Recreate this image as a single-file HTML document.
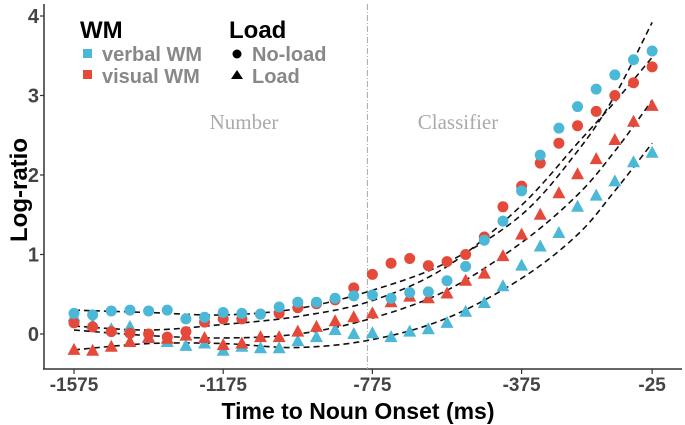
<!DOCTYPE html>
<html><head><meta charset="utf-8"><style>
body{margin:0;background:#fff}
svg{display:block;font-family:"Liberation Sans",sans-serif}
</style></head><body>
<svg id="chart" width="685" height="425" viewBox="0 0 685 425">
<g id="axes"></g>
<g id="curves"></g>
<g id="marks"></g>
<text x="244" y="129" font-family="Liberation Serif,serif" font-size="21" fill="#aaa" text-anchor="middle">Number</text>
<text x="458" y="129" font-family="Liberation Serif,serif" font-size="21" fill="#aaa" text-anchor="middle">Classifier</text>
<g>
<text x="80" y="38" font-size="24" font-weight="bold" fill="#000">WM</text>
<rect x="83" y="49" width="9" height="9" fill="#4ab8d6"/>
<text x="102" y="61" font-size="20" font-weight="bold" fill="#888">verbal WM</text>
<rect x="83" y="70" width="9" height="9" fill="#e5493a"/>
<text x="102" y="83" font-size="20" font-weight="bold" fill="#888">visual WM</text>
<text x="229" y="38" font-size="24" font-weight="bold" fill="#000">Load</text>
<circle cx="237" cy="54" r="4.5" fill="#000"/>
<text x="252" y="61" font-size="20" font-weight="bold" fill="#888">No-load</text>
<polygon points="237,70 243,79 231,79" fill="#000"/>
<text x="252" y="83" font-size="20" font-weight="bold" fill="#888">Load</text>
</g>
<text x="358" y="419" font-size="23" font-weight="bold" text-anchor="middle" fill="#000">Time to Noun Onset (ms)</text>
<text transform="translate(27,190) rotate(-90)" font-size="24" font-weight="bold" text-anchor="middle" fill="#000">Log-ratio</text>
</svg>
<script>
const times = [-1575,-1525,-1475,-1425,-1375,-1325,-1275,-1225,-1175,-1125,-1075,-1025,-975,-925,-875,-825,-775,-725,-675,-625,-575,-525,-475,-425,-375,-325,-275,-225,-175,-125,-75,-25];
const verbalNoLoad = [0.26,0.24,0.29,0.30,0.29,0.30,0.19,0.21,0.27,0.26,0.25,0.34,0.40,0.40,0.45,0.48,0.49,0.45,0.52,0.53,0.67,0.85,1.18,1.42,1.80,2.25,2.59,2.86,3.08,3.26,3.45,3.56];
const visualNoLoad = [0.14,0.09,0.03,0.01,0.00,-0.04,0.03,0.15,0.19,0.19,0.25,0.26,0.33,0.38,0.43,0.58,0.75,0.89,0.95,0.86,0.91,1.00,1.22,1.60,1.86,2.15,2.40,2.62,2.80,3.00,3.16,3.36];
const visualLoad = [-0.20,-0.21,-0.16,-0.10,-0.05,-0.06,-0.02,-0.05,-0.14,-0.12,-0.04,-0.04,0.03,0.09,0.16,0.21,0.26,0.40,0.47,0.45,0.51,0.67,0.76,0.98,1.25,1.50,1.77,2.01,2.20,2.44,2.67,2.87];
const verbalLoad = [0.22,0.12,0.06,0.09,-0.04,-0.10,-0.15,-0.12,-0.21,-0.16,-0.18,-0.18,-0.09,-0.04,0.05,0.00,0.01,-0.04,0.03,0.06,0.14,0.28,0.39,0.60,0.86,1.10,1.27,1.60,1.74,1.92,2.16,2.28];
const curveTimes = [-1575,-1375,-1175,-975,-775,-575,-375,-225,-125,-25];
const curveA = [0.30,0.27,0.24,0.32,0.55,0.90,1.50,2.30,3.00,3.92];
const curveB = [0.10,0.05,0.12,0.22,0.42,0.85,1.62,2.40,2.92,3.48];
const curveC = [0.05,-0.02,-0.05,0.00,0.20,0.55,1.15,1.75,2.30,2.94];
const curveD = [-0.20,-0.12,-0.12,-0.17,-0.07,0.20,0.70,1.25,1.80,2.40];
const xTicks = [-1575,-1175,-775,-375,-25];
const yTicks = [0,1,2,3,4];

const NS='http://www.w3.org/2000/svg';
const X = v => 74 + (v + 1575) * 0.373;
const Y = v => 334 - v * 79.5;
function mk(tag, attrs, parent){const e=document.createElementNS(NS,tag);for(const k in attrs)e.setAttribute(k,attrs[k]);parent.appendChild(e);return e;}
const axes=document.getElementById('axes');
let el;
el=mk('line',{x1:44,y1:4,x2:44,y2:369,stroke:'#333','stroke-width':1.5},axes);


el=mk('line',{x1:43,y1:369,x2:682,y2:369,stroke:'#333','stroke-width':1.5},axes);


el=mk('line',{x1:X(-775)-5,y1:4,x2:X(-775)-5,y2:369,stroke:'#aaa','stroke-width':1,'stroke-dasharray':'6 2 1 2'},axes);


yTicks.forEach(t=>{
  el=mk('line',{x1:40,y1:Y(t),x2:44,y2:Y(t),stroke:'#333','stroke-width':1.2},axes);
  
  
  el=mk('text',{x:39,y:Y(t)+7,'text-anchor':'end','font-size':20,'font-weight':'bold',fill:'#444'},axes);
  el.textContent=t;
  
  
});
xTicks.forEach(t=>{
  el=mk('line',{x1:X(t),y1:369,x2:X(t),y2:374,stroke:'#333','stroke-width':1.2},axes);
  
  
  el=mk('text',{x:X(t),y:391,'text-anchor':'middle','font-size':19,'font-weight':'bold',fill:'#444'},axes);
  el.textContent=t;
  
  
});
function smooth(ts,vs){
  const p=ts.map((t,i)=>[X(t),Y(vs[i])]);
  let d='M'+p[0][0]+','+p[0][1];
  for(let i=0;i<p.length-1;i++){
    const p0=p[Math.max(i-1,0)],p1=p[i],p2=p[i+1],p3=p[Math.min(i+2,p.length-1)];
    const c1=[p1[0]+(p2[0]-p0[0])/6,p1[1]+(p2[1]-p0[1])/6];
    const c2=[p2[0]-(p3[0]-p1[0])/6,p2[1]-(p3[1]-p1[1])/6];
    d+=' C'+c1+' '+c2+' '+p2;
  }
  return d;
}
const cg=document.getElementById('curves');
[curveA,curveB,curveC,curveD].forEach(c=>{
  el=mk('path',{d:smooth(curveTimes,c),fill:'none',stroke:'#111','stroke-width':1.6,'stroke-dasharray':'6 4'},cg);
  
  
});
const mg=document.getElementById('marks');
const BLUE='#4ab8d6',RED='#e5493a';
function circ(vals,col,name){vals.forEach((v,i)=>{
  el=mk('circle',{cx:X(times[i]),cy:Y(v),r:5.5,fill:col},mg);
  
  
});}
function tri(vals,col,name){vals.forEach((v,i)=>{
  const x=X(times[i]),y=Y(v);
  el=mk('polygon',{points:`${x},${y-7} ${x+6.5},${y+5} ${x-6.5},${y+5}`,fill:col},mg);
  
  
});}
tri(verbalLoad,BLUE,'verbal-load-point');
tri(visualLoad,RED,'visual-load-point');
circ(visualNoLoad,RED,'visual-noload-point');
circ(verbalNoLoad,BLUE,'verbal-noload-point');
</script>
</body></html>
